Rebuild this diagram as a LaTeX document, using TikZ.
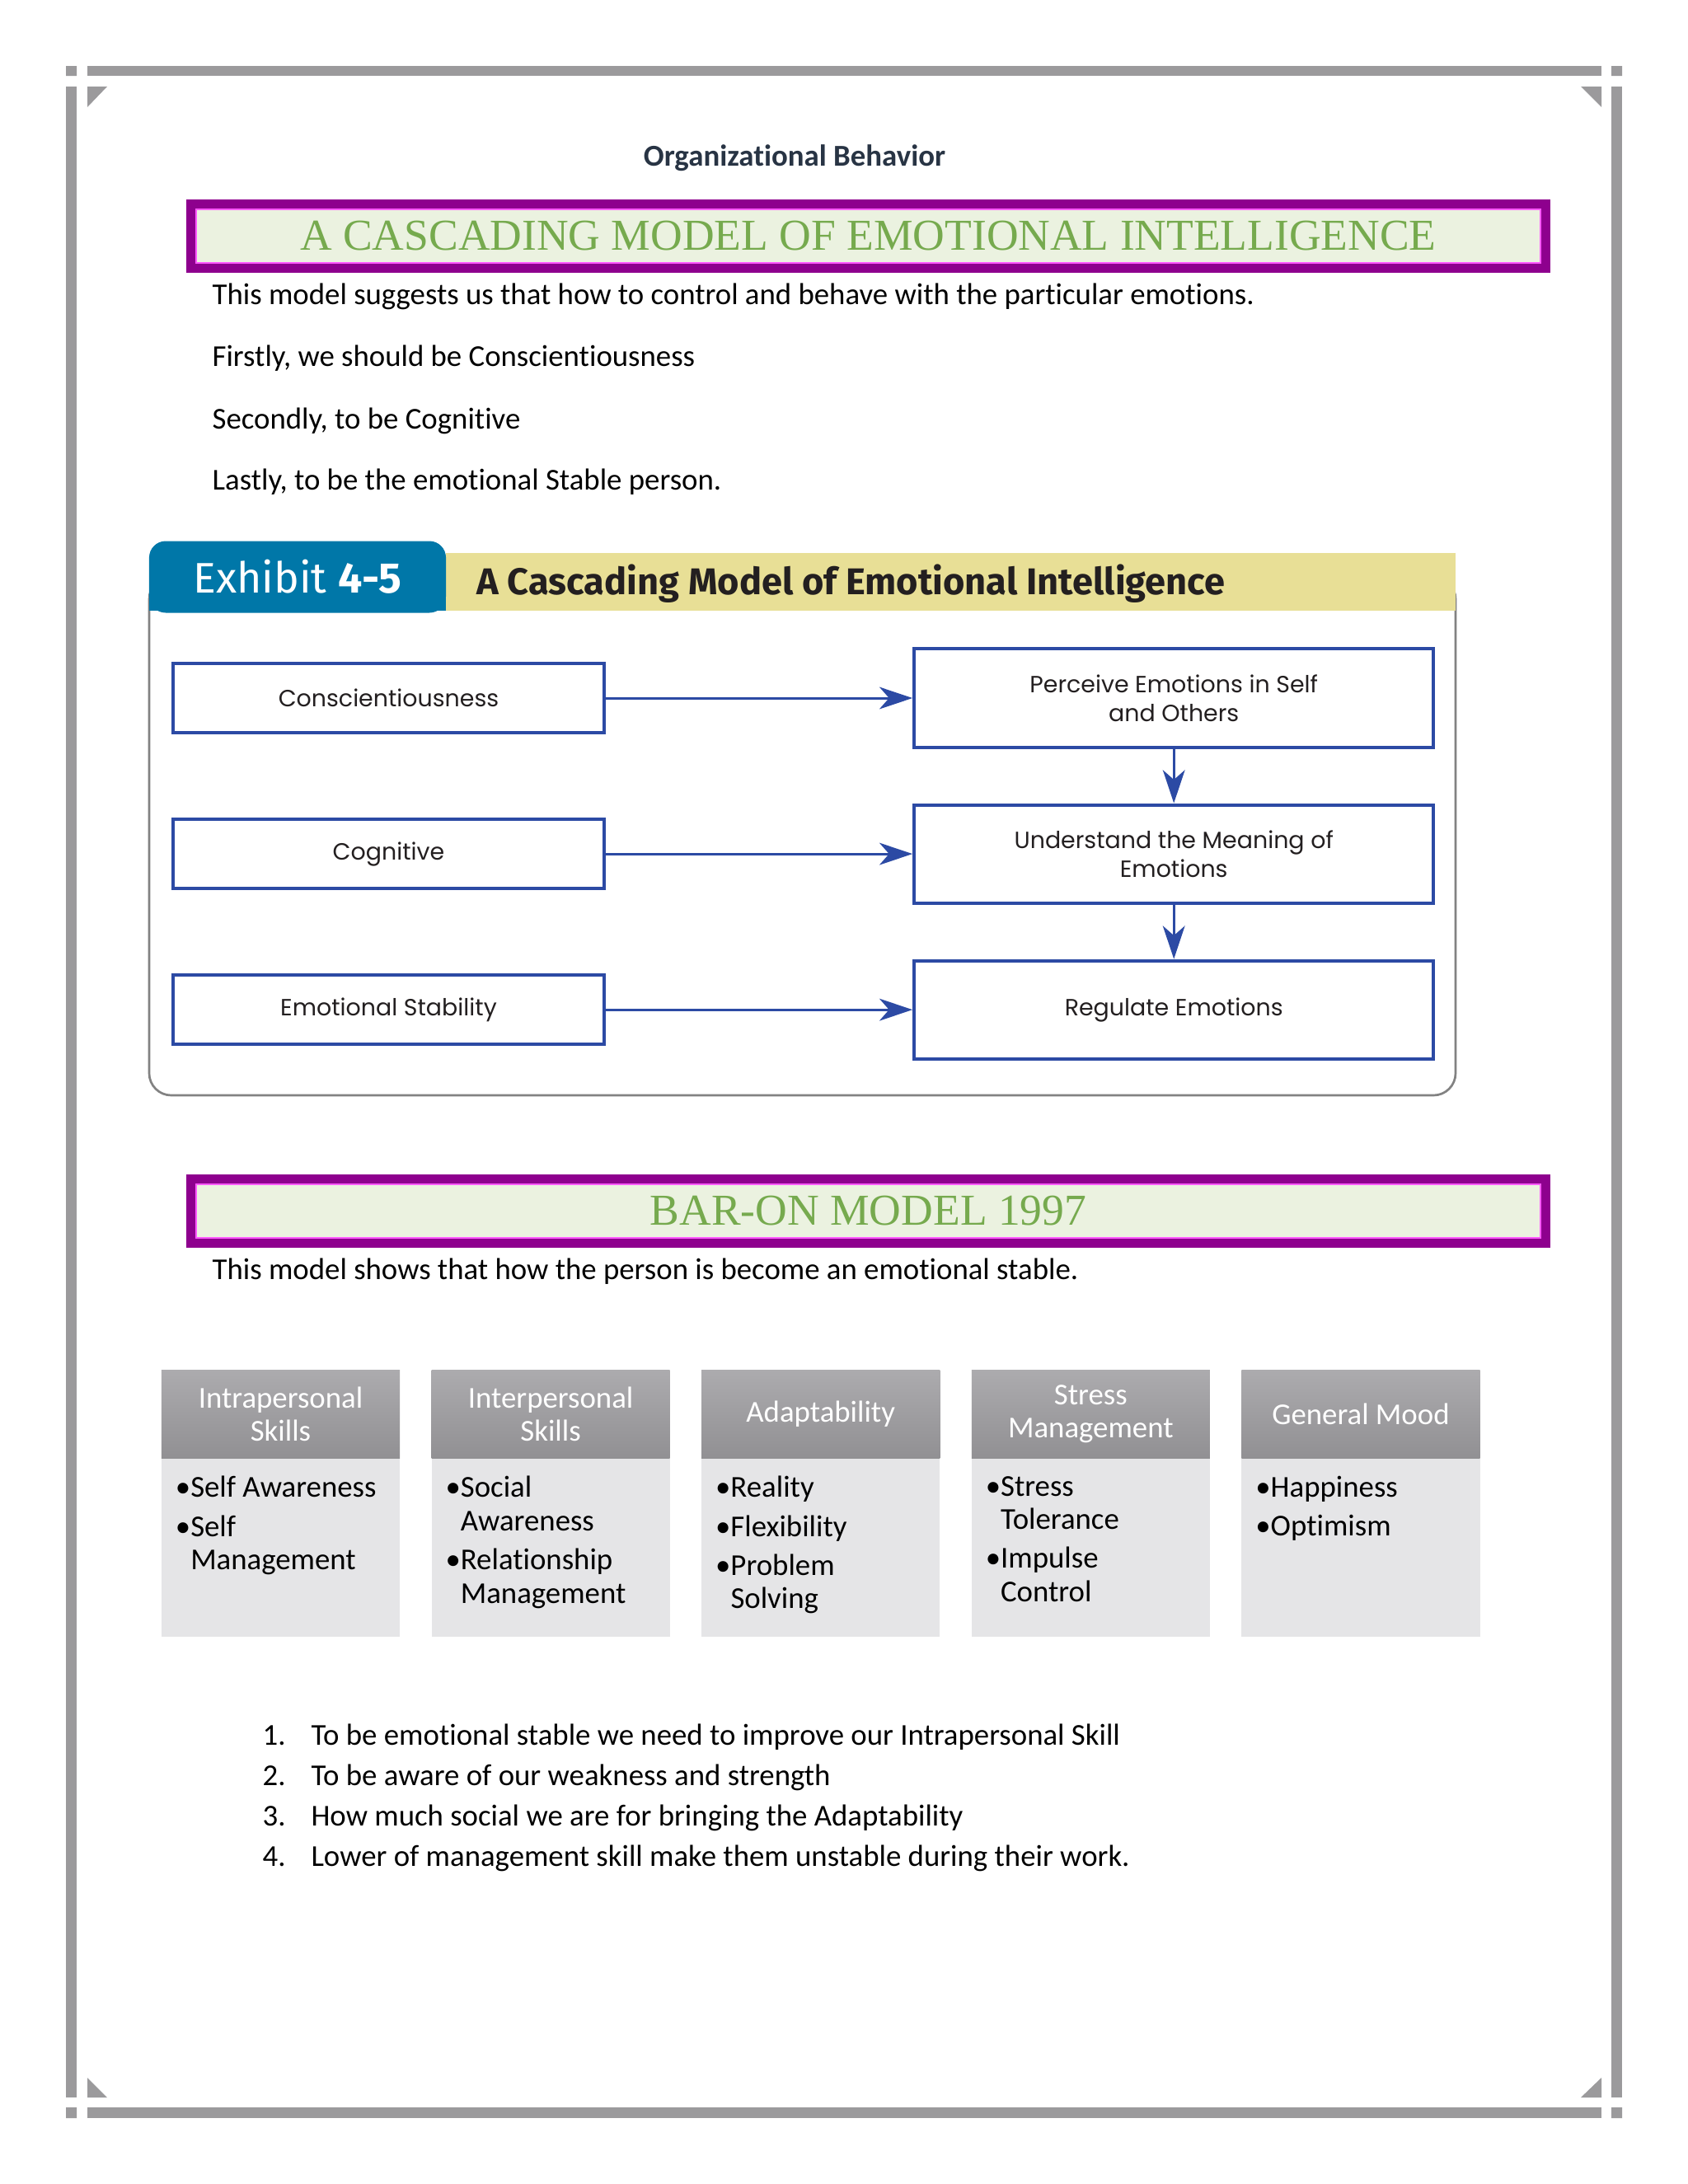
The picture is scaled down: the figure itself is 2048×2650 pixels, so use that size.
\documentclass[tikz,border=0pt]{standalone}
\usepackage{fontspec}
\setmainfont{Carlito}[Ligatures=NoCommon]
\newfontfamily\bannerfont{Liberation Serif}
\newfontfamily\exhibitfont{Fira Sans}
\newfontfamily\boxfont{Poppins}
\usepackage{xcolor}
\usetikzlibrary{arrows.meta, positioning, shadings}

\definecolor{framegray}{RGB}{155,154,156}
\definecolor{bannerpurple}{RGB}{142,0,142}
\definecolor{bannerpink}{RGB}{255,90,255}
\definecolor{bannerfill}{RGB}{235,242,224}
\definecolor{bannergreen}{RGB}{118,170,78}
\definecolor{headnavy}{RGB}{40,52,68}
\definecolor{tabblue}{RGB}{0,119,168}
\definecolor{bandyellow}{RGB}{232,223,150}
\definecolor{exblue}{RGB}{44,74,164}
\definecolor{extext}{RGB}{35,31,32}
\definecolor{exframe}{RGB}{130,130,130}
\definecolor{coltop}{RGB}{172,171,174}
\definecolor{colbot}{RGB}{145,144,147}
\definecolor{colfill}{RGB}{229,229,231}

\begin{document}
\begin{tikzpicture}[
    x=0.29883pt, y=-0.29883pt,
    % page text
    pagehead/.style={inner sep=0pt, font=\bfseries\fontsize{11}{13}\selectfont, text=headnavy},
    para/.style={anchor=west, inner sep=0pt, font=\fontsize{11}{13}\selectfont},
    listitem/.style={para},
    % purple banners
    banner/.style={rectangle, draw=bannerpurple, line width=3.3pt, fill=bannerfill, minimum width=491.3pt, minimum height=23.3pt, inner sep=0pt, font=\bannerfont\fontsize{16}{18}\selectfont, text=bannergreen},
    % exhibit 4-5
    tab/.style={rectangle, rounded corners=6pt, fill=tabblue, minimum width=107.6pt, minimum height=26pt, text=white, font=\exhibitfont\fontsize{15.5}{18}\selectfont},
    extitle/.style={anchor=west, inner sep=0pt, text=extext, font=\exhibitfont\bfseries\fontsize{13.5}{16}\selectfont},
    leftbox/.style={rectangle, draw=exblue, line width=1.2pt, fill=white, minimum width=156.3pt, minimum height=25.1pt, align=center, text=extext, font=\boxfont\fontsize{8.5}{10.5}\selectfont},
    rightbox/.style={leftbox, minimum width=188.3pt, minimum height=35.6pt},
    flow/.style={-{Stealth[length=12pt, width=8pt, inset=3.5pt]}, line width=0.9pt, draw=exblue},
    % bar-on columns
    colhead/.style={rectangle, top color=coltop, bottom color=colbot, minimum width=86.4pt, minimum height=31.7pt, inner sep=0pt, align=center, text=white, font=\fontsize{11}{12}\selectfont},
    colbody/.style={rectangle, fill=colfill, minimum width=86.4pt, minimum height=64.5pt, inner sep=0pt},
    coltext/.style={anchor=north west, inner sep=0pt, align=left, font=\fontsize{11}{12.1}\selectfont}
]

\fill[white] (0,0) rectangle (2048,2650);
\useasboundingbox (0,0) rectangle (2048,2650);

% page frame
\fill[framegray] (106,80) rectangle (1943,92);
\fill[framegray] (106,2557) rectangle (1943,2570);
\fill[framegray] (80,105) rectangle (93,2545);
\fill[framegray] (1955,105) rectangle (1968,2545);
\fill[framegray] (80,80) rectangle (93,92) (1955,80) rectangle (1968,92);
\fill[framegray] (80,2557) rectangle (93,2570) (1955,2557) rectangle (1968,2570);
\fill[framegray] (106,105) -- (130,105) -- (106,130) -- cycle;
\fill[framegray] (1918,105) -- (1943,105) -- (1943,130) -- cycle;
\fill[framegray] (106,2521) -- (106,2545) -- (130,2545) -- cycle;
\fill[framegray] (1943,2521) -- (1943,2545) -- (1918,2545) -- cycle;

\node (orgb) [pagehead] at (964,192) {Organizational Behavior};

% first banner and text
\node (title1) [banner] at (1053.5,286.5) {A CASCADING MODEL OF EMOTIONAL INTELLIGENCE};
\draw[bannerpink, line width=0.8pt] ([shift={(12,12)}]title1.north west) rectangle ([shift={(-12,-12)}]title1.south east);

\node (p1) [para] at (257,360) {This model suggests us that how to control and behave with the particular emotions.};
\node (p2) [para] at (257,435) {Firstly, we should be Conscientiousness};
\node (p3) [para] at (257,511) {Secondly, to be Cognitive};
\node (p4) [para] at (257,585) {Lastly, to be the emotional Stable person.};

% exhibit frame and header
\draw[exframe, line width=0.8pt, rounded corners=8pt] (181,700) rectangle (1766,1329);
\fill[bandyellow] (541,671) rectangle (1766,741);
\fill[tabblue] (181,700) rectangle (541,741);
\node (tab) [tab] at (361,700) {Exhibit \textbf{4-5}};
\node (extitle) [extitle] at (578,708) {A Cascading Model of Emotional Intelligence};

% exhibit boxes
\node (cons) [leftbox] at (471.5,847) {Conscientiousness};
\node (cog) [leftbox, below=30.2pt of cons] {Cognitive};
\node (stab) [leftbox, below=30.2pt of cog] {Emotional Stability};
\node (perc) [rightbox, right=111.2pt of cons] {Perceive Emotions in Self\\and Others};
\node (und) [rightbox, right=111.2pt of cog] {Understand the Meaning of\\Emotions};
\node (reg) [rightbox, right=111.2pt of stab] {Regulate Emotions};

\draw [flow] (cons) -- (perc);
\draw [flow] (cog) -- (und);
\draw [flow] (stab) -- (reg);
\draw [flow] (perc) -- (und);
\draw [flow] (und) -- (reg);

% second banner
\node (title2) [banner] at (1053.5,1469.5) {BAR-ON MODEL 1997};
\draw[bannerpink, line width=0.8pt] ([shift={(12,12)}]title2.north west) rectangle ([shift={(-12,-12)}]title2.south east);
\node (p5) [para] at (257,1543) {This model shows that how the person is become an emotional stable.};

% bar-on columns
\node (h1) [colhead] at (340.5,1716) {Intrapersonal\\Skills};
\node (h2) [colhead, right=11.1pt of h1] {Interpersonal\\Skills};
\node (h3) [colhead, right=11.1pt of h2] {Adaptability};
\node (h4) [colhead, right=11.1pt of h3] {Stress\\Management};
\node (h5) [colhead, right=11.1pt of h4] {General Mood};

\node (b1) [colbody, below=0pt of h1] {};
\node (b2) [colbody, below=0pt of h2] {};
\node (b3) [colbody, below=0pt of h3] {};
\node (b4) [colbody, below=0pt of h4] {};
\node (b5) [colbody, below=0pt of h5] {};

\node (t1) [coltext] at ([shift={(17,21)}]b1.north west) {\textbullet Self Awareness\\[2pt]\textbullet Self\\\phantom{\textbullet}Management};
\node (t2) [coltext] at ([shift={(17,21)}]b2.north west) {\textbullet Social\\\phantom{\textbullet}Awareness\\[2pt]\textbullet Relationship\\\phantom{\textbullet}Management};
\node (t3) [coltext] at ([shift={(17,21)}]b3.north west) {\textbullet Reality\\[2pt]\textbullet Flexibility\\[2pt]\textbullet Problem\\\phantom{\textbullet}Solving};
\node (t4) [coltext] at ([shift={(17,21)}]b4.north west) {\textbullet Stress\\\phantom{\textbullet}Tolerance\\[2pt]\textbullet Impulse\\\phantom{\textbullet}Control};
\node (t5) [coltext] at ([shift={(17,21)}]b5.north west) {\textbullet Happiness\\[2pt]\textbullet Optimism};

% numbered points
\node (l1) [listitem] at (318,2108) {\makebox[17.6pt][l]{1.}To be emotional stable we need to improve our Intrapersonal Skill};
\node (l2) [listitem] at (318,2157) {\makebox[17.6pt][l]{2.}To be aware of our weakness and strength};
\node (l3) [listitem] at (318,2206) {\makebox[17.6pt][l]{3.}How much social we are for bringing the Adaptability};
\node (l4) [listitem] at (318,2255) {\makebox[17.6pt][l]{4.}Lower of management skill make them unstable during their work.};

\end{tikzpicture}
\end{document}
